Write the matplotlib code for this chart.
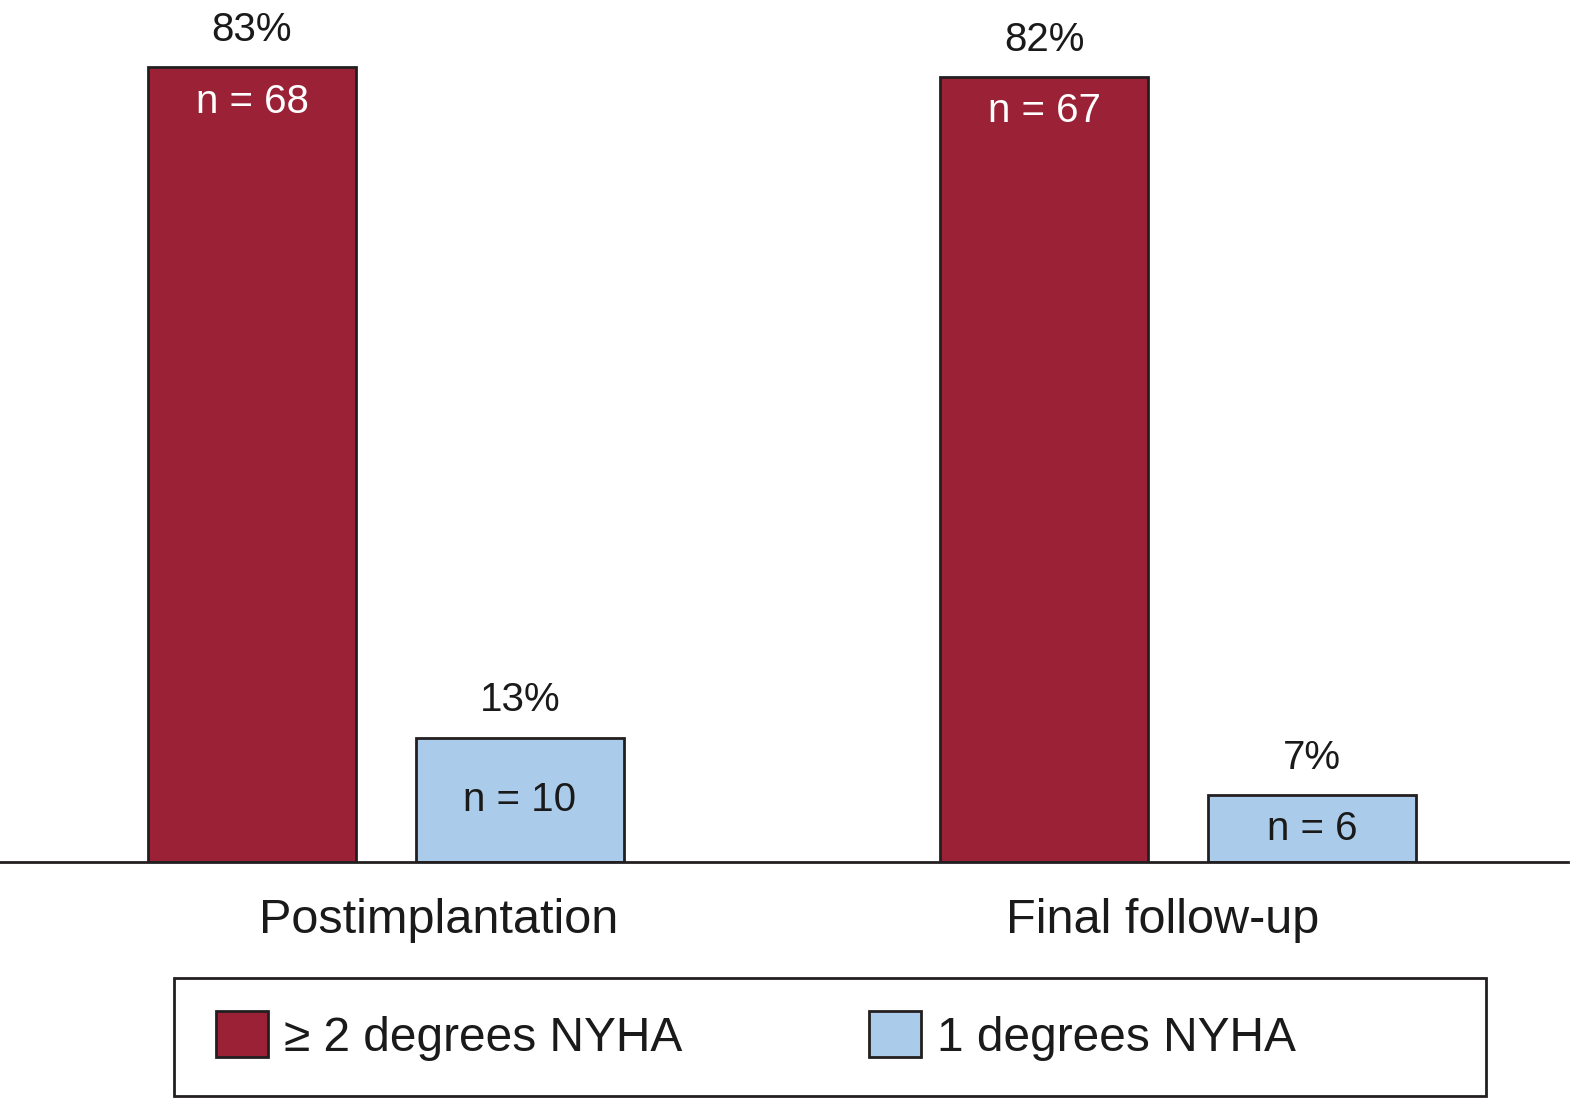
import matplotlib.pyplot as plt
import matplotlib.patches as mpatches
import numpy as np

plt.rcParams['font.family'] = ['Liberation Sans', 'DejaVu Sans']

groups = ['Postimplantation', 'Final follow-up']
series = ['\u2265 2 degrees NYHA', '1 degrees NYHA']
pct_high = [83, 82]
pct_low = [13, 7]
n_high = [68, 67]
n_low = [10, 6]

red = '#9B2236'
blue = '#AACCEA'
edge = '#231F20'
txt = '#1a1a1a'

fig = plt.figure(figsize=(15.83, 11.09), dpi=100)
ax = fig.add_axes([0, 0.2227, 0.9905, 0.7773])

x = np.arange(len(groups))
w = 0.263
off = 0.169

b1 = ax.bar(x - off, pct_high, w, color=red, edgecolor=edge, linewidth=2)
b2 = ax.bar(x + off, pct_low, w, color=blue, edgecolor=edge, linewidth=2)

for bars, pcts, ns, tcol in [(b1, pct_high, n_high, 'white'), (b2, pct_low, n_low, txt)]:
    for bar, p, n in zip(bars, pcts, ns):
        cx = bar.get_x() + bar.get_width() / 2
        h = bar.get_height()
        ax.annotate('%d%%' % p, (cx, h), xytext=(0, 13), textcoords='offset points',
                    ha='center', va='bottom', fontsize=29, color=txt)
        ny = h - 3.6 if h > 30 else h / 2
        ax.text(cx, ny, 'n = %d' % n, ha='center', va='center', fontsize=29, color=tcol)

ax.set_xlim(-0.487, 1.492)
ax.set_ylim(0, 90)
for s in ['top', 'right', 'left']:
    ax.spines[s].set_visible(False)
ax.spines['bottom'].set_linewidth(2)
ax.spines['bottom'].set_color(edge)
ax.set_yticks([])
ax.set_xticks([0.066, 0.98])
ax.set_xticklabels(groups, fontsize=35)
ax.tick_params(axis='x', length=0, pad=26, colors=txt)

# legend box
fig.patches.append(mpatches.Rectangle((174 / 1583, 13 / 1109), 1312 / 1583, 118 / 1109,
                                      transform=fig.transFigure, fill=False,
                                      edgecolor=edge, linewidth=2))
handles = [mpatches.Patch(facecolor=red, edgecolor=edge, linewidth=2),
           mpatches.Patch(facecolor=blue, edgecolor=edge, linewidth=2)]
fig.legend(handles, series, loc='center left', bbox_to_anchor=(216 / 1583, 73 / 1109),
           ncol=2, frameon=False, fontsize=34.5, handlelength=1.085, handleheight=1.085,
           handletextpad=0.33, columnspacing=3.9, borderpad=0, borderaxespad=0,
           labelcolor=txt)

fig.savefig('out.png', dpi=100)
